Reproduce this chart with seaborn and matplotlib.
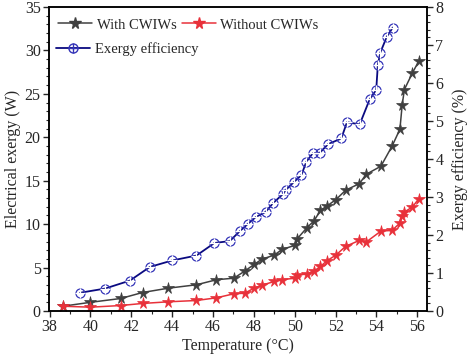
import numpy as np
import pandas as pd
import matplotlib
matplotlib.use("Agg")
import matplotlib.pyplot as plt
from matplotlib.lines import Line2D
from matplotlib.legend_handler import HandlerTuple
from matplotlib.ticker import MultipleLocator
import seaborn as sns

# %% Data
temp = [38.64, 40.0, 41.48, 42.55, 43.82, 45.19, 46.17, 47.02, 47.55, 48.01,
        48.4, 49.0, 49.38, 50.0, 50.13, 50.6, 50.94, 51.26, 51.58, 52.02,
        52.49, 53.17, 53.5, 54.22, 54.77, 55.15, 55.26, 55.37, 55.76, 56.08]
exergy_with = [0.55, 1.0, 1.44, 2.13, 2.63, 3.02, 3.6, 3.78, 4.59, 5.36,
               5.97, 6.44, 7.09, 7.55, 8.33, 9.6, 10.36, 11.59, 12.09, 12.83,
               13.9, 14.67, 15.74, 16.67, 19.0, 20.93, 23.7, 25.5, 27.4, 28.8]
exergy_without = [0.55, 0.44, 0.63, 0.87, 1.06, 1.21, 1.52, 1.98, 2.05, 2.63,
                  2.98, 3.4, 3.6, 3.78, 4.09, 4.29, 4.59, 5.13, 5.79, 6.44,
                  7.44, 8.13, 7.94, 9.2, 9.28, 10.13, 10.9, 11.4, 11.97, 12.94]

eff_temp = [39.49, 40.71, 41.93, 42.91, 44.0, 45.19, 46.07, 46.82, 47.31, 47.72,
            48.09, 48.58, 48.94, 49.45, 49.55, 49.97, 50.33, 50.57, 50.88, 51.22,
            51.63, 52.28, 52.56, 53.18, 53.67, 53.99, 54.07, 54.19, 54.51, 54.8]
efficiency = [0.48, 0.59, 0.80, 1.16, 1.33, 1.46, 1.79, 1.84, 2.10, 2.30,
              2.47, 2.61, 2.84, 3.09, 3.18, 3.40, 3.58, 3.93, 4.15, 4.16,
              4.39, 4.54, 4.97, 4.91, 5.57, 5.82, 6.48, 6.80, 7.22, 7.46]

exergy_df = pd.DataFrame({'Temperature': temp, 'With': exergy_with, 'Without': exergy_without})
eff_df = pd.DataFrame({'Temperature': eff_temp, 'Efficiency': efficiency})

# %% Style
sns.set_style("ticks")
plt.rcParams['font.family'] = ['Liberation Serif', 'DejaVu Serif']
fs = 11.5

fig = plt.figure(figsize=(4.74, 3.61), dpi=100)
ax = fig.add_axes([0.1034, 0.1385, 0.7976, 0.8421])

gray = '#404040'
red = '#E8313A'
navy = '#0A0A80'
blue = '#3434B8'

sns.lineplot(data=exergy_df, x='Temperature', y='With', ax=ax, color=gray,
             marker='*', markersize=8.5, markeredgewidth=0.5, markeredgecolor=gray,
             linewidth=1.1, estimator=None)
sns.lineplot(data=exergy_df, x='Temperature', y='Without', ax=ax, color=red,
             marker='*', markersize=8.5, markeredgewidth=0.5, markeredgecolor=red,
             linewidth=1.1, estimator=None)

ax2 = ax.twinx()
sns.lineplot(data=eff_df, x='Temperature', y='Efficiency', ax=ax2, color=navy,
             marker='o', markersize=6.5, markerfacecolor='none', markeredgecolor=blue,
             markeredgewidth=0.9, linewidth=1.3, estimator=None)
sns.lineplot(data=eff_df, x='Temperature', y='Efficiency', ax=ax2, color=blue,
             marker='+', markersize=6.5, markeredgewidth=0.9, linestyle='none',
             estimator=None)

# %% Axes
ax.set_xlim(37.97, 56.48)
ax.set_ylim(0, 35)
ax2.set_ylim(0, 8)
ax.xaxis.set_major_locator(MultipleLocator(2))
ax.xaxis.set_minor_locator(MultipleLocator(1))
ax.yaxis.set_major_locator(MultipleLocator(5))
ax.yaxis.set_minor_locator(MultipleLocator(1))
ax2.yaxis.set_major_locator(MultipleLocator(1))
ax2.yaxis.set_minor_locator(MultipleLocator(0.2))

for a in (ax, ax2):
    a.tick_params(which='major', direction='out', length=4, width=1.0, labelsize=fs, pad=2)
    a.tick_params(which='minor', direction='out', length=2.2, width=0.8)
    for s in a.spines.values():
        s.set_visible(True)
        s.set_linewidth(1.1)
        s.set_color('black')
ax.tick_params(axis='y', which='both', right=False)
ax2.tick_params(axis='x', which='both', top=False)

ax.set_xlabel('Temperature (°C)', fontsize=fs, labelpad=2)
ax.set_ylabel('Electrical exergy (W)', fontsize=fs, labelpad=3)
ax2.set_ylabel('Exergy efficiency (%)', fontsize=fs, labelpad=6)

# %% Legend (two rows drawn as two legends)
h_with = Line2D([], [], color=gray, marker='*', markersize=8.5, linewidth=1.1)
h_without = Line2D([], [], color=red, marker='*', markersize=8.5, linewidth=1.1)
h_eff_o = Line2D([], [], color=navy, marker='o', markersize=6.5, markerfacecolor='none',
                 markeredgecolor=blue, linewidth=1.3)
h_eff_p = Line2D([], [], color=blue, marker='+', markersize=6.5, linestyle='none')

leg_opts = dict(frameon=False, fontsize=10.5, handlelength=2.35, handletextpad=0.3,
                borderpad=0, borderaxespad=0, loc='center left')
leg1 = ax2.legend([h_with, h_without], ['With CWIWs', 'Without CWIWs'],
                  ncol=2, columnspacing=0.35, bbox_to_anchor=(0.024, 0.941), **leg_opts)
ax2.add_artist(leg1)
ax2.legend([(h_eff_o, h_eff_p)], ['Exergy efficiency'],
           handler_map={tuple: HandlerTuple(ndivide=1)},
           bbox_to_anchor=(0.019, 0.862), **leg_opts)

fig.savefig('out.png', dpi=100)
